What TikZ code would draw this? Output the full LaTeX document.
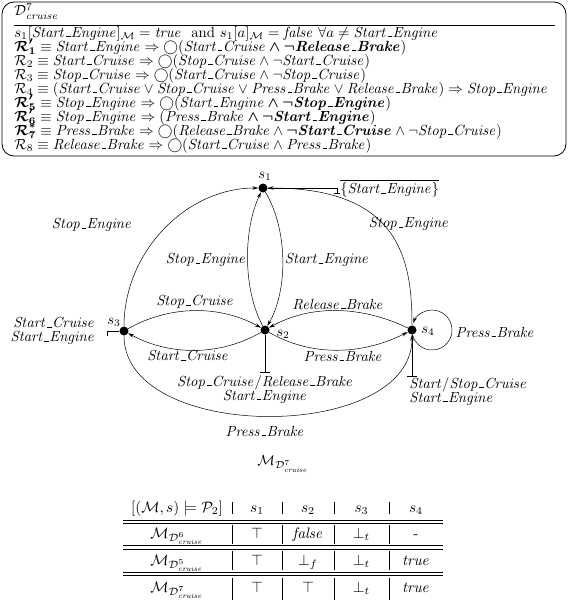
\documentclass[tikz,border=0pt]{standalone}
\usepackage{amsmath,amssymb,bm}
\usetikzlibrary{arrows.meta}
\newcommand{\us}{\mbox{\kern0.06em\vbox{\hrule width 0.32em}\kern0.02em}}
\newcommand{\ac}[1]{\mathit{#1}}
\newcommand{\bwedge}{\mathbin{\boldsymbol{\wedge}}}
\begin{document}
\begin{tikzpicture}[x=1pt,y=-1pt,
  every node/.style={font=\fontsize{10}{9.6}\selectfont, inner sep=0pt},
  lab/.style={scale=1.46},
  big/.style={scale=1.47},
  state/.style={circle,fill=black,minimum size=9pt,inner sep=0pt},
  arr/.style={-{Stealth[length=6pt,width=3.5pt]}, line width=0.5pt},
  ln/.style={line width=0.5pt},
  rowtext/.style={big, anchor=base west},
  cell/.style={scale=1.52, anchor=base},
  dbl/.style={line width=0.7pt}]
\useasboundingbox (0,0) rectangle (568,605);
% ---------- rule box ----------
\draw[line width=0.8pt, rounded corners=12pt] (2,2) rectangle (566,156);
\node[rowtext] (title) at (14,16) {$\mathcal{D}^7_{\ac{cruise}}$};
\draw[ln] (14,25) -- (555,25);
\node[rowtext] (r0) at (14,37) {$s_1[\ac{Start\us Engine}]_{\mathcal{M}} = \ac{true}$\ \ and\ $s_1[a]_{\mathcal{M}} = \ac{false}\ \forall a \neq \ac{Start\us Engine}$};
\node[rowtext] (r1) at (14,51) {$\boldsymbol{\mathcal{R}'_1} \equiv \ac{Start\us Engine} \Rightarrow \bigcirc(\ac{Start\us Cruise} \bwedge \boldsymbol{\neg \ac{Release\us Brake}})$};
\node[rowtext] (r2) at (14,65) {$\mathcal{R}_2 \equiv \ac{Start\us Cruise} \Rightarrow \bigcirc(\ac{Stop\us Cruise} \wedge \neg \ac{Start\us Cruise})$};
\node[rowtext] (r3) at (14,79) {$\mathcal{R}_3 \equiv \ac{Stop\us Cruise} \Rightarrow \bigcirc(\ac{Start\us Cruise} \wedge \neg \ac{Stop\us Cruise})$};
\node[rowtext] (r4) at (14,93) {$\mathcal{R}_4 \equiv (\ac{Start\us Cruise} \vee \ac{Stop\us Cruise} \vee \ac{Press\us Brake} \vee \ac{Release\us Brake}) \Rightarrow \ac{Stop\us Engine}$};
\node[rowtext] (r5) at (14,107) {$\boldsymbol{\mathcal{R}'_5} \equiv \ac{Stop\us Engine} \Rightarrow \bigcirc(\ac{Start\us Engine} \bwedge \boldsymbol{\neg\ac{Stop\us Engine}})$};
\node[rowtext] (r6) at (14,121) {$\boldsymbol{\mathcal{R}'_6} \equiv \ac{Stop\us Engine} \Rightarrow (\ac{Press\us Brake} \bwedge \boldsymbol{\neg\ac{Start\us Engine}})$};
\node[rowtext] (r7) at (14,135) {$\boldsymbol{\mathcal{R}^{*}_7} \equiv \ac{Press\us Brake} \Rightarrow \bigcirc(\ac{Release\us Brake} \wedge \boldsymbol{\neg\ac{Start\us Cruise}} \wedge \neg\ac{Stop\us Cruise})$};
\node[rowtext] (r8) at (14,149) {$\mathcal{R}_8 \equiv \ac{Release\us Brake} \Rightarrow \bigcirc(\ac{Start\us Cruise} \wedge \ac{Press\us Brake})$};
% ---------- states ----------
\node[state] (s1) at (263,188) {};
\node[state] (s2) at (265,330) {};
\node[state] (s3) at (124,331) {};
\node[state] (s4) at (412,330) {};
\node[lab] (l1) at (265,176) {$s_1$};
\node[lab] (l2) at (283,334) {$s_2$};
\node[lab] (l3) at (114,322) {$s_3$};
\node[lab] (l4) at (428,331) {$s_4$};
% ---------- transitions ----------
\draw[arr] (s3) .. controls (124,252) and (186,188) .. (s1);
\draw[arr] (s4) .. controls (412,260) and (400,188) .. (s1);
\draw[arr] (s2) .. controls (243,290) and (243,230) .. (s1);
\draw[arr] (s1) .. controls (288,230) and (288,290) .. (s2);
\draw[arr] (s3) .. controls (170,305) and (220,305) .. (s2);
\draw[arr] (s2) .. controls (220,356) and (170,356) .. (s3);
\draw[arr] (s4) .. controls (360,305) and (310,305) .. (s2);
\draw[arr] (s2) .. controls (310,356) and (360,356) .. (s4);
\draw[arr] (s3) .. controls (124,443) and (412,443) .. (s4);
\draw[arr] ([shift={(0.7pt,-5.2pt)}]s4.center) arc[start angle=165, end angle=-160, radius=20];
% ---------- blocked actions ----------
\coordinate (t1) at (337,188);
\coordinate (t2) at (265,372);
\coordinate (t3) at (107,331);
\coordinate (t4) at (412,376);
\draw[ln] (s1) -- (t1);
\draw[ln] (t1) -- ([yshift=-5pt]t1);
\draw[ln] ([yshift=-5pt,xshift=-3pt]t1) -- ([yshift=-5pt,xshift=3pt]t1);
\draw[ln] (s2) -- (t2);
\draw[ln] ([xshift=-5pt]t2) -- ([xshift=5pt]t2);
\draw[ln] (s3) -- (t3);
\draw[ln] (t3) -- ([yshift=-5pt]t3);
\draw[ln] (s4) -- (t4);
\draw[ln] ([xshift=-5pt]t4) -- ([xshift=5pt]t4);
% ---------- labels ----------
\node[lab] (e1) at (92,225) {$\ac{Stop\us Engine}$};
\node[lab] (e2) at (206,260) {$\ac{Stop\us Engine}$};
\node[lab] (e3) at (327,260) {$\ac{Start\us Engine}$};
\node[lab] (e4) at (409,224) {$\ac{Stop\us Engine}$};
\node[lab] (e5) at (195,302) {$\ac{Stop\us Cruise}$};
\node[lab] (e6) at (188,356) {$\ac{Start\us Cruise}$};
\node[lab] (e7) at (338,304) {$\ac{Release\us Brake}$};
\node[lab] (e8) at (343,356) {$\ac{Press\us Brake}$};
\node[lab] (e9) at (495,332) {$\ac{Press\us Brake}$};
\node[lab] (e10) at (265,431) {$\ac{Press\us Brake}$};
\node[lab, anchor=east, align=right] (b3) at (95,331) {$\ac{Start\us Cruise}$\\$\ac{Start\us Engine}$};
\node[lab, align=center] (b2) at (265,389) {$\ac{Stop\us Cruise/Release\us Brake}$\\$\ac{Start\us Engine}$};
\node[lab, anchor=west, align=left] (b4) at (409,391) {$\ac{Start/Stop\us Cruise}$\\$\ac{Start\us Engine}$};
\node[lab, anchor=west] (b1) at (340,188) {$\overline{\{\ac{Start\us Engine}\}}$};
\node[lab] (cap) at (283,464) {$\mathcal{M}_{\mathcal{D}^7_{\ac{cruise}}}$};
% ---------- table ----------
\node[cell] (h0) at (177,512) {$[(\mathcal{M},s)\models\mathcal{P}_2]$};
\node[cell] (h1) at (257,512) {$s_1$};
\node[cell] (h2) at (308,512) {$s_2$};
\node[cell] (h3) at (361.5,512) {$s_3$};
\node[cell] (h4) at (416,512) {$s_4$};
\node[cell] (a0) at (177,538) {$\mathcal{M}_{\mathcal{D}^6_{\ac{cruise}}}$};
\node[cell] (a1) at (257,538) {$\top$};
\node[cell] (a2) at (308,538) {$\ac{false}$};
\node[cell] (a3) at (361.5,538) {$\bot_t$};
\node[cell] (a4) at (416,538) {-};
\node[cell] (b0) at (177,565) {$\mathcal{M}_{\mathcal{D}^5_{\ac{cruise}}}$};
\node[cell] (bb1) at (257,565) {$\top$};
\node[cell] (bb2) at (308,565) {$\bot_f$};
\node[cell] (bb3) at (361.5,565) {$\bot_t$};
\node[cell] (bb4) at (416,565) {$\ac{true}$};
\node[cell] (c0) at (177,592) {$\mathcal{M}_{\mathcal{D}^7_{\ac{cruise}}}$};
\node[cell] (c1) at (257,592) {$\top$};
\node[cell] (c2) at (308,592) {$\top$};
\node[cell] (c3) at (361.5,592) {$\bot_t$};
\node[cell] (c4) at (416,592) {$\ac{true}$};
\foreach \y in {520,523.3,545.7,549,572.3,575.7} \draw[dbl] (123,\y) -- (443,\y);
\foreach \x in {232,282,334,389} {
  \draw[ln] (\x,502) -- (\x,514);
  \draw[ln] (\x,525) -- (\x,544);
  \draw[ln] (\x,551) -- (\x,570);
  \draw[ln] (\x,578) -- (\x,600);
}
\end{tikzpicture}
\end{document}
